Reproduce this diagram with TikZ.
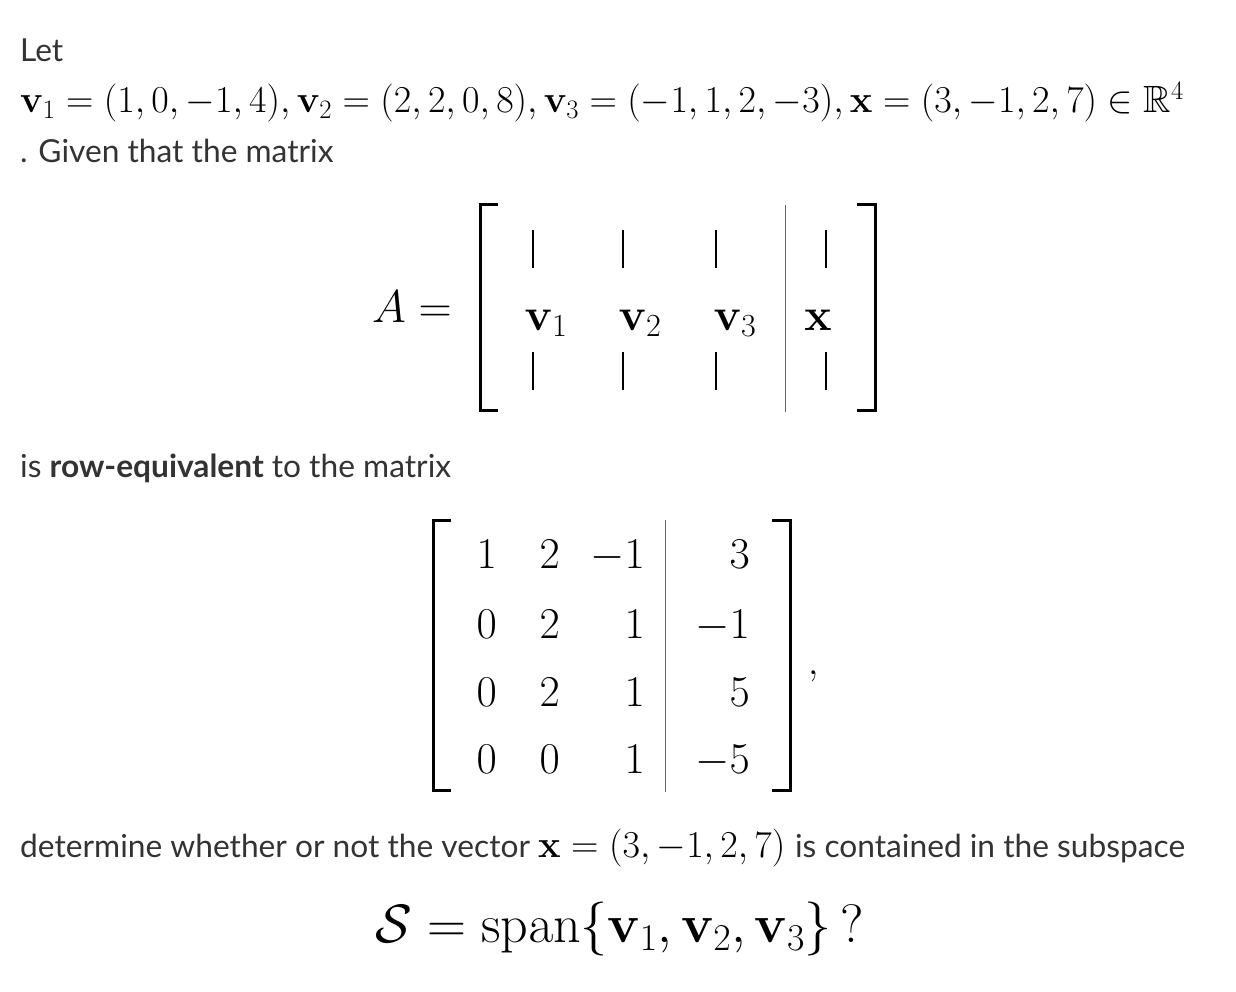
\RequirePackage{fix-cm}
\documentclass[tikz,border=0pt]{standalone}
\usepackage{amsmath,amssymb}
\usepackage[no-math]{fontspec}
\newfontfamily\lato{Lato}
\begin{document}
\begin{tikzpicture}[x=1pt,y=-1pt,
  txt/.style={anchor=base west,inner sep=0pt,font=\lato\fontsize{31.7}{36}\selectfont,text=black!80},
  mth/.style={anchor=base west,inner sep=0pt,font=\fontsize{38}{42}\selectfont},
  lab/.style={anchor=base,inner sep=0pt,font=\fontsize{46}{50}\selectfont},
  ent/.style={anchor=base east,inner sep=0pt,font=\fontsize{44}{50}\selectfont},
  brk/.style={line width=3pt},
  thin/.style={line width=1pt,black!60}]
\useasboundingbox (0,0) rectangle (1236,992);
\node[txt] (let) at (20,62) {Let};
\node[mth] (vecs) at (20,113) {$\mathbf{v}_1=(1,0,-1,4),\mathbf{v}_2=(2,2,0,8),\mathbf{v}_3=(-1,1,2,-3),\mathbf{x}=(3,-1,2,7)\in\mathbb{R}^4$};
\node[txt] (given) at (20,163) {. Given that the matrix};
% matrix A
\node[anchor=base east,inner sep=0pt,font=\fontsize{46}{50}\selectfont] (Aeq) at (452,322) {$A=$};
\draw[brk] (498,205) -- (480,205) -- (480,410) -- (498,410);
\draw[brk] (857,205) -- (875,205) -- (875,410) -- (857,410);
\draw[thin] (785,205) -- (785,412);
\foreach \c in {533,623,716,826}{
  \draw[line width=1.2pt] (\c,230) -- (\c,268);
  \draw[line width=1.2pt] (\c,352) -- (\c,390);}
\node[lab] (c1) at (546,330) {$\mathbf{v}_1$};
\node[lab] (c2) at (640,330) {$\mathbf{v}_2$};
\node[lab] (c3) at (735,330) {$\mathbf{v}_3$};
\node[lab] (c4) at (818,330) {$\mathbf{x}$};
\node[txt] (roweq) at (20,477) {is \textbf{row-equivalent} to the matrix};
% matrix 2
\draw[brk] (451,520) -- (433,520) -- (433,790) -- (451,790);
\draw[brk] (772,520) -- (790,520) -- (790,790) -- (772,790);
\draw[thin] (665,520) -- (665,792);
\node[ent] (e11) at (497,568) {$1$};
\node[ent] (e12) at (560,568) {$2$};
\node[ent] (e13) at (645,568) {$-1$};
\node[ent] (e14) at (750,568) {$3$};
\node[ent] (e21) at (497,638) {$0$};
\node[ent] (e22) at (560,638) {$2$};
\node[ent] (e23) at (645,638) {$1$};
\node[ent] (e24) at (750,638) {$-1$};
\node[ent] (e31) at (497,706) {$0$};
\node[ent] (e32) at (560,706) {$2$};
\node[ent] (e33) at (645,706) {$1$};
\node[ent] (e34) at (750,706) {$5$};
\node[ent] (e41) at (497,773) {$0$};
\node[ent] (e42) at (560,773) {$0$};
\node[ent] (e43) at (645,773) {$1$};
\node[ent] (e44) at (750,773) {$-5$};
\node[mth] (comma) at (808,674) {$,$};
\node[txt] (det) at (20,857) {determine whether or not the vector \normalcolor\fontsize{38}{42}\selectfont$\mathbf{x}=(3,-1,2,7)$ \lato\fontsize{31.7}{36}\selectfont\color{black!80}is contained in the subspace};
\node[anchor=base,inner sep=0pt,font=\fontsize{54}{60}\selectfont] (span) at (620,942) {$\mathcal{S}=\mathrm{span}\{\mathbf{v}_1,\mathbf{v}_2,\mathbf{v}_3\}\,?$};
\end{tikzpicture}
\end{document}
